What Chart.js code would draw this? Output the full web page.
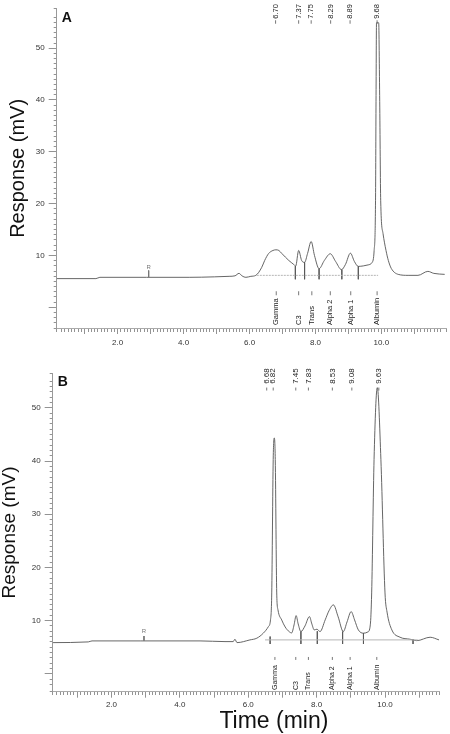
<!DOCTYPE html>
<html lang="en">
<head>
<meta charset="utf-8">
<title>Serum protein electropherograms</title>
<script src="https://cdn.jsdelivr.net/npm/chart.js@4.4.1/dist/chart.umd.min.js"></script>
<style>
  html, body { margin: 0; padding: 0; background: #fff; }
  .panel { position: absolute; left: 0; width: 450px; }
  #panelA { top: 0; height: 356px; }
  #panelB { top: 356px; height: 378px; }
</style>
</head>
<body>
<div class="panel" id="panelA"><canvas id="chartA"></canvas></div>
<div class="panel" id="panelB"><canvas id="chartB"></canvas></div>
<script>
/**
 * Two capillary electrophoresis traces (A, B), response in mV against time in min.
 */

// Fractions in elution order.
var fractionNames = ['Gamma', 'C3', 'Trans', 'Alpha 2', 'Alpha 1', 'Albumin'];

// Panel A trace.
var timeA = [0.16, 1.34, 1.46, 2.87, 4.17, 4.93, 5.38, 5.56, 5.68, 5.77, 5.89, 6.04, 6.19, 6.37,
  6.46, 6.58, 6.71, 6.80, 6.89, 6.98, 7.19, 7.34, 7.40, 7.49, 7.58, 7.67, 7.76, 7.87, 7.97, 8.11,
  8.27, 8.45, 8.61, 8.79, 8.91, 9.06, 9.18, 9.30, 9.45, 9.60, 9.72, 9.78, 9.822, 9.837, 9.852,
  9.918, 9.949, 9.979, 10.05, 10.14, 10.21, 10.30, 10.51, 10.81, 11.11, 11.41, 11.59, 11.92];
var responseA = [5.53, 5.53, 5.78, 5.78, 5.78, 5.87, 5.97, 6.07, 6.55, 6.07, 5.78, 5.97, 6.16, 7.70,
  9.04, 10.38, 10.96, 11.09, 10.96, 10.38, 9.04, 8.27, 7.95, 10.96, 9.04, 8.66, 10.38, 12.69, 10.00, 7.45,
  9.04, 10.33, 8.85, 7.26, 8.27, 10.44, 8.85, 7.89, 7.98, 8.18, 8.66, 10.96, 20.56, 39.75, 54.9,
  54.9, 39.75, 20.56, 14.22, 10.96, 9.04, 7.50, 6.35, 6.16, 6.16, 6.93, 6.54, 6.35];
var peakTimesA = ['6.70', '7.37', '7.75', '8.29', '8.89', '9.68'];
var peakPosA = [6.79, 7.49, 7.87, 8.46, 9.05, 9.87];
var namePosA = [6.81, 7.49, 7.89, 8.45, 9.07, 9.87];
var dropTimesA = [7.39, 7.67, 8.11, 8.80, 9.30];
var dropTopsA = [7.95, 8.66, 7.45, 7.26, 7.89];
var baselineA = [6.22, 9.90];

// Panel B trace.
var timeB = [0.29, 1.32, 1.43, 2.84, 4.59, 5.32, 5.56, 5.61, 5.67, 6.05, 6.25, 6.44, 6.59, 6.65,
  6.687, 6.73, 6.763, 6.79, 6.833, 6.87, 6.98, 7.08, 7.20, 7.27, 7.34, 7.40, 7.46, 7.54, 7.66, 7.79,
  7.86, 7.93, 8.01, 8.10, 8.25, 8.36, 8.49, 8.63, 8.78, 8.89, 9.01, 9.11, 9.22, 9.37, 9.50, 9.57,
  9.61, 9.68, 9.775, 9.88, 10.00, 10.06, 10.20, 10.44, 10.73, 10.93, 11.32, 11.58];
var responseB = [5.86, 5.99, 6.18, 6.18, 6.18, 6.05, 6.05, 6.50, 5.86, 6.37, 6.69, 7.63, 8.87, 10.1,
  15.2, 40.3, 44.35, 40.3, 15.2, 12.0, 10.1, 8.8, 7.9, 7.68, 9.19, 10.94, 9.38, 7.93, 9.00, 10.75,
  9.38, 8.25, 8.38, 7.93, 10.13, 11.83, 12.96, 10.70, 7.93, 9.76, 11.69, 10.13, 8.25, 7.63, 7.87, 9.2,
  15.2, 40.3, 53.8, 40.3, 15.2, 11.6, 8.25, 6.87, 6.50, 6.23, 6.87, 6.37];
var peakTimesB = ['6.68', '6.82', '7.45', '7.83', '8.53', '9.08', '9.63'];
var peakPosB = [6.54, 6.73, 7.39, 7.76, 8.46, 9.03, 9.82];
var namePosB = [6.78, 7.39, 7.76, 8.46, 8.98, 9.76];
var dropTimesB = [6.64, 7.54, 8.02, 8.76, 9.37, 10.82];
var dropTopsB = [7.0, 7.93, 8.0, 7.93, 7.63, 6.5];
var baselineB = [6.49, 10.96];

var FONT = '"Liberation Sans", Arial, sans-serif';

/**
 * Draws one piece of text reading bottom to top, starting at (x, y).
 */
function upText(ctx, txt, x, y) {
  ctx.save();
  ctx.translate(x, y);
  ctx.rotate(-Math.PI / 2);
  ctx.textAlign = 'left';
  ctx.textBaseline = 'middle';
  ctx.fillText(txt, 0, 0);
  ctx.restore();
}

function vLine(ctx, x, y1, y2) {
  ctx.beginPath();
  ctx.moveTo(x, y1);
  ctx.lineTo(x, y2);
  ctx.stroke();
}

// Peak annotations, panel letter and injection marker.
var peakLabels = {
  id: 'peakLabels',
  afterDraw: function (chart, args, o) {
    var ctx = chart.ctx;
    var xs = chart.scales.x;
    var ys = chart.scales.y;
    var area = chart.chartArea;
    ctx.save();
    ctx.fillStyle = '#222';
    ctx.strokeStyle = '#555';
    ctx.lineWidth = 0.8;

    ctx.font = o.timeFont + ' ' + FONT;
    o.timeLabels.forEach(function (txt, i) {
      var px = xs.getPixelForValue(o.timePos[i]);
      upText(ctx, txt, px, ys.getPixelForValue(o.timeTextAt));
      vLine(ctx, px, ys.getPixelForValue(o.timeDash[0]), ys.getPixelForValue(o.timeDash[1]));
    });

    ctx.font = o.nameFont + ' ' + FONT;
    fractionNames.forEach(function (txt, i) {
      var px = xs.getPixelForValue(o.namePos[i]);
      upText(ctx, txt, px, ys.getPixelForValue(o.nameTextAt));
      vLine(ctx, px, ys.getPixelForValue(o.nameDash[0]), ys.getPixelForValue(o.nameDash[1]));
    });

    ctx.font = '6px ' + FONT;
    ctx.fillStyle = '#777';
    ctx.textAlign = 'center';
    ctx.textBaseline = 'middle';
    ctx.fillText('R', xs.getPixelForValue(o.marker), ys.getPixelForValue(o.markerTextAt));

    ctx.fillStyle = '#111';
    ctx.font = 'bold 14px ' + FONT;
    ctx.textAlign = 'left';
    ctx.textBaseline = 'alphabetic';
    ctx.fillText(o.letter, area.left + 5, area.top + 13);

    if (o.xTitle) {
      ctx.font = o.xTitleFont + ' ' + FONT;
      ctx.textAlign = 'center';
      ctx.textBaseline = 'middle';
      ctx.fillText(o.xTitle, xs.getPixelForValue(o.xTitleAt), chart.height - o.xTitleFromBottom);
    }
    ctx.restore();
  }
};

function isWhole(v, step) {
  var r = Math.round(v / step);
  return Math.abs(v / step - r) < 1e-6;
}

/**
 * Builds one panel.
 */
function makePanel(canvasId, p) {
  var trace = p.time.map(function (t, i) {
    return {x: t, y: p.response[i]};
  });
  var drops = [];
  p.dropTimes.forEach(function (t, i) {
    drops.push({x: t, y: p.dropTops[i]}, {x: t, y: p.dropBottom}, {x: t, y: null});
  });
  var base = [{x: p.baseline[0], y: p.baselineLevel}, {x: p.baseline[1], y: p.baselineLevel}];
  var marker = [{x: p.labels.marker, y: p.markerLine[0]}, {x: p.labels.marker, y: p.markerLine[1]}];

  return new Chart(document.getElementById(canvasId).getContext('2d'), {
    type: 'line',
    data: {
      datasets: [
        {data: base, borderColor: '#b5b5b5', borderWidth: 1, borderDash: p.baselineDash, tension: 0},
        {data: drops, borderColor: '#555', borderWidth: 0.8, tension: 0, spanGaps: false},
        {data: marker, borderColor: '#777', borderWidth: 1, tension: 0},
        {data: trace, borderColor: '#555', borderWidth: 0.9, cubicInterpolationMode: 'monotone'}
      ]
    },
    options: {
      responsive: true,
      maintainAspectRatio: false,
      animation: false,
      layout: {padding: {left: 0, top: p.padTop, right: p.padRight, bottom: 0}},
      elements: {point: {radius: 0}},
      plugins: {
        legend: {display: false},
        tooltip: {enabled: false},
        peakLabels: p.labels
      },
      scales: {
        x: {
          type: 'linear',
          min: p.xMin,
          max: p.xMax,
          afterFit: function (s) { s.height = p.xHeight; },
          border: {color: '#aaa', width: 1},
          grid: {
            drawOnChartArea: false,
            tickLength: 6,
            tickColor: '#777',
            tickWidth: 0.8,
            tickBorderDash: function (c) {
              return c.tick && isWhole(c.tick.value, 1) ? [] : [3, 50];
            }
          },
          ticks: {
            stepSize: 0.1,
            autoSkip: false,
            maxRotation: 0,
            padding: p.xTickPad,
            color: '#333',
            font: {size: 8, family: FONT},
            callback: function (v) {
              var r = Math.round(v);
              return (isWhole(v, 2) && r > 0) ? r.toFixed(1) : '';
            }
          }
        },
        y: {
          min: p.yMin,
          max: p.yMax,
          afterFit: function (s) { s.width = p.yWidth; },
          border: {color: '#999', width: 1},
          title: {
            display: true,
            text: 'Response (mV)',
            color: '#111',
            font: {size: p.yTitleSize, family: FONT, lineHeight: p.yTitleLine},
            padding: {top: p.yTitlePad, bottom: 0}
          },
          grid: {
            drawOnChartArea: false,
            tickLength: 8,
            tickColor: '#777',
            tickWidth: 0.8,
            tickBorderDash: function (c) {
              return c.tick && isWhole(c.tick.value, 10) ? [] : [0, 5, 3, 50];
            }
          },
          ticks: {
            stepSize: 1,
            autoSkip: false,
            padding: 4,
            color: '#333',
            font: {size: 8, family: FONT},
            callback: function (v) {
              return (v > 0 && isWhole(v, 10)) ? String(v) : '';
            }
          }
        }
      }
    },
    plugins: [peakLabels]
  });
}

makePanel('chartA', {
  time: timeA, response: responseA,
  dropTimes: dropTimesA, dropTops: dropTopsA, dropBottom: 5.4,
  baseline: baselineA, baselineLevel: 6.16, baselineDash: [2, 1],
  markerLine: [7.1, 5.8],
  xMin: 0.15, xMax: 11.96, yMin: -4.0, yMax: 57.6,
  padTop: 7, padRight: 2, xHeight: 28, yWidth: 56.7, xTickPad: 4,
  yTitleSize: 20, yTitleLine: 1.2, yTitlePad: 6,
  labels: {
    letter: 'A',
    timeLabels: peakTimesA, timePos: peakPosA, timeFont: '7.5px', timeTextAt: 55.68, timeDash: [55.39, 54.72],
    namePos: namePosA, nameFont: '7.5px', nameTextAt: -3.42, nameDash: [3.09, 2.32],
    marker: 2.94, markerTextAt: 7.7
  }
});

makePanel('chartB', {
  time: timeB, response: responseB,
  dropTimes: dropTimesB, dropTops: dropTopsB, dropBottom: 5.6,
  baseline: baselineB, baselineLevel: 6.37, baselineDash: [],
  markerLine: [7.1, 6.2],
  xMin: 0.28, xMax: 11.6, yMin: -3.37, yMax: 56.5,
  padTop: 17.3, padRight: 10.3, xHeight: 42.3, yWidth: 52.7, xTickPad: 2,
  yTitleSize: 19, yTitleLine: 1.0, yTitlePad: 0.5,
  labels: {
    letter: 'B',
    timeLabels: peakTimesB, timePos: peakPosB, timeFont: '8px', timeTextAt: 54.52, timeDash: [53.82, 53.26],
    namePos: namePosB, nameFont: '7px', nameTextAt: -3.05, nameDash: [3.16, 2.60],
    marker: 2.95, markerTextAt: 7.9,
    xTitle: 'Time (min)', xTitleAt: 6.75, xTitleFont: '23px', xTitleFromBottom: 12
  }
});
</script>
</body>
</html>
